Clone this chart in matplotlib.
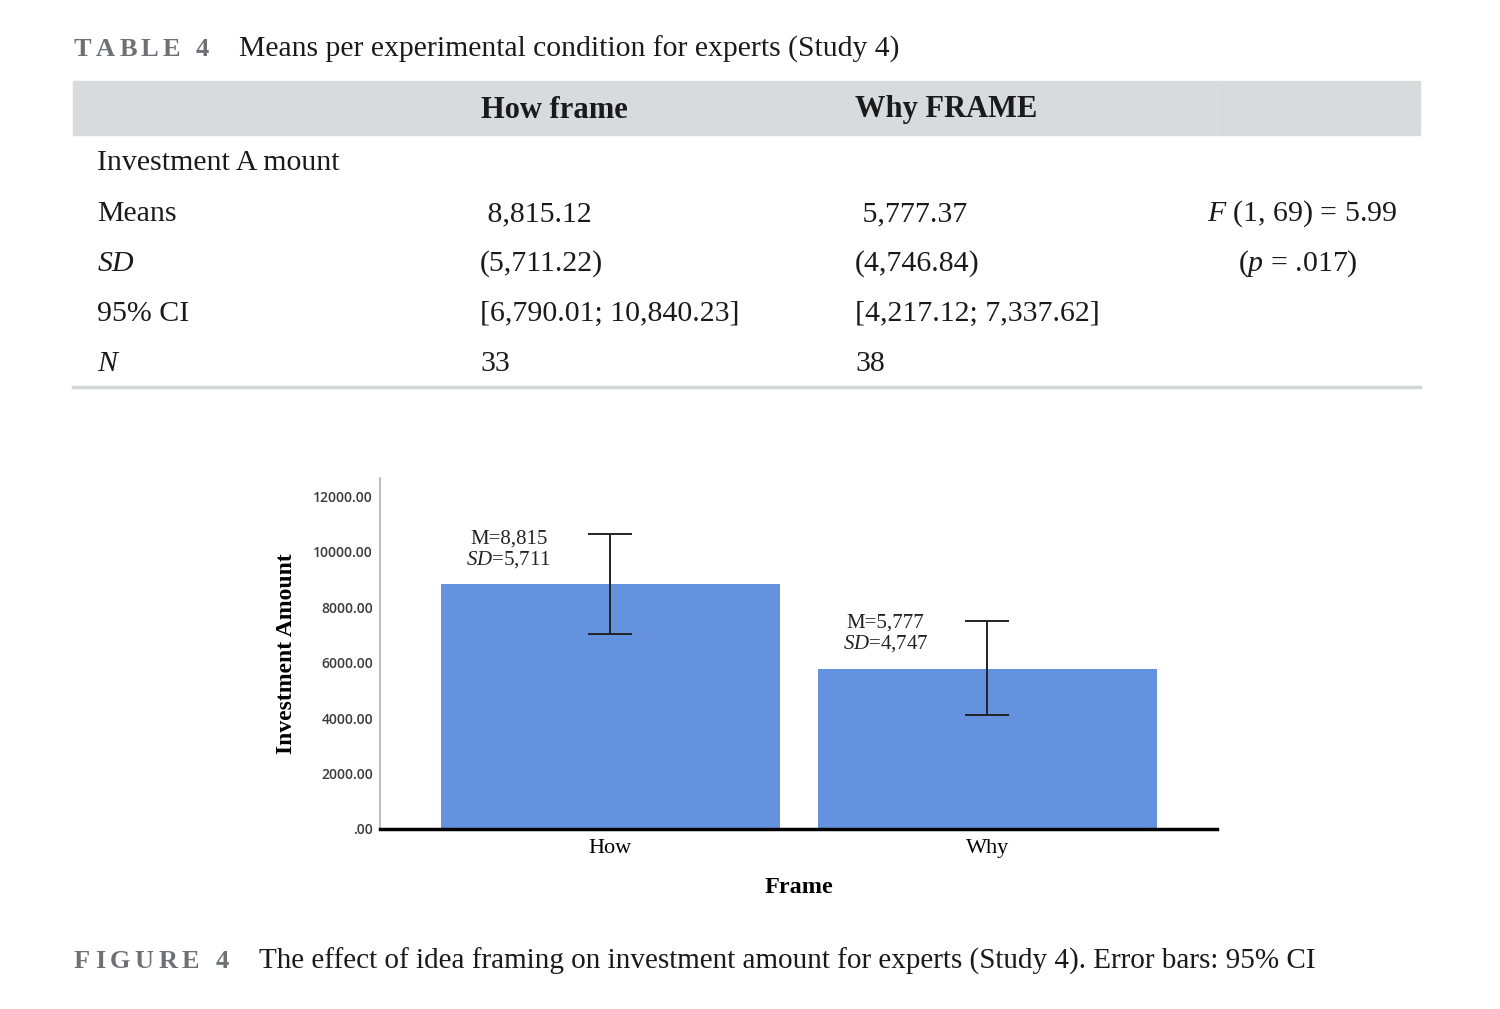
import numpy as np
import matplotlib
matplotlib.use("Agg")
import matplotlib.pyplot as plt

plt.rcParams["font.family"] = "Liberation Serif"
plt.rcParams["mathtext.fontset"] = "custom"
plt.rcParams["mathtext.rm"] = "Liberation Serif"
plt.rcParams["mathtext.it"] = "Liberation Serif:italic"
plt.rcParams["mathtext.bf"] = "Liberation Serif:bold"

# chart data
frames = ["How", "Why"]
means = [8815, 5777]
sds = [5711, 4747]
err_low = [7030, 4110]
err_high = [10630, 7500]
y_ticks = [0, 2000, 4000, 6000, 8000, 10000, 12000]
y_tick_labels = [".00", "2000.00", "4000.00", "6000.00", "8000.00", "10000.00", "12000.00"]

# table data
col_headers = ["How frame", "Why FRAME"]
row_labels = ["Investment A mount", "Means", "$\\it{SD}$", "95% CI", "$\\it{N}$"]
how_col = ["", " 8,815.12", "(5,711.22)", "[6,790.01; 10,840.23]", "33"]
why_col = ["", " 5,777.37", "(4,746.84)", "[4,217.12; 7,337.62]", "38"]
stat_col = ["", "$\\it{F}$ (1, 69) = 5.99", "($\\it{p}$ = .017)", "", ""]

W, H = 1500, 1009
fig = plt.figure(figsize=(15, 10.09), dpi=100)
ink = "#1a1a1a"
gray = "#6d7075"
body = 21.5


def fx(x):
    return x / W


def fy(y):
    return 1 - y / H


def spaced(x, y, s, size, gap):
    r = fig.canvas.get_renderer()
    for ch in s:
        t = fig.text(fx(x), fy(y), ch, fontsize=size, fontweight="bold",
                     color=gray, va="center", ha="left")
        x += t.get_window_extent(r).width + gap


# title
spaced(74, 49, "TABLE 4", 19, 4.2)
fig.text(fx(239), fy(49), "Means per experimental condition for experts (Study 4)",
         fontsize=21.3, color=ink, va="center")

# header band
fig.patches.append(plt.Rectangle((fx(73), fy(135)), fx(1420 - 73), (135 - 81) / H,
                                 transform=fig.transFigure, color="#d9dadc", zorder=0))
fig.lines.append(plt.Line2D([fx(1217), fx(1217)], [fy(81), fy(135)],
                            transform=fig.transFigure, color="#dedfe1", lw=1))
fig.text(fx(554), fy(110), col_headers[0], fontsize=22, fontweight="bold",
         color=ink, va="center", ha="center")
fig.text(fx(855), fy(110), col_headers[1], fontsize=22, fontweight="bold",
         color=ink, va="center", ha="left")

row_y = [163, 214, 264, 314, 364]
for i, yy in enumerate(row_y):
    fig.text(fx(97), fy(yy), row_labels[i], fontsize=body, color=ink, va="center")
    fig.text(fx(480), fy(yy), how_col[i], fontsize=body, color=ink, va="center")
    fig.text(fx(855), fy(yy), why_col[i], fontsize=body, color=ink, va="center")
fig.text(fx(1397), fy(row_y[1]), stat_col[1], fontsize=body, color=ink,
         va="center", ha="right")
fig.text(fx(1298), fy(row_y[2]), stat_col[2], fontsize=body, color=ink,
         va="center", ha="center")

fig.lines.append(plt.Line2D([fx(73), fx(1420)], [fy(387), fy(387)],
                            transform=fig.transFigure, color="#d4d5d7", lw=2.5))

# bar chart
ax = fig.add_axes([fx(380), fy(829), fx(1217 - 380), (829 - 478) / H])
x = np.arange(len(frames))
ax.bar(x, means, width=0.9, color="#6592df", zorder=2)
yerr = [np.array(means) - np.array(err_low), np.array(err_high) - np.array(means)]
ax.errorbar(x, means, yerr=yerr, fmt="none", ecolor="#222222", elinewidth=1.4,
            capsize=16, capthick=1.4, zorder=3)
for xi, m, s in zip(x, means, sds):
    ax.text(xi - 0.27, m + 520, f"M={m:,}\n$\\it{{SD}}$={s:,}", fontsize=15,
            color="#222222", ha="center", va="bottom", linespacing=1.05)

ax.set_xlim(-0.611, 1.609)
ax.set_ylim(0, 12650)
ax.set_xticks(x)
ax.set_xticklabels(frames, fontsize=16)
ax.set_yticks(y_ticks)
ax.set_yticklabels(y_tick_labels, fontsize=10, family="Open Sans",
                   fontweight="semibold", color="#3a3a3a")
ax.tick_params(length=0, pad=5)
ax.tick_params(axis="x", pad=7)
for side in ["top", "right"]:
    ax.spines[side].set_visible(False)
ax.spines["left"].set_color("#b0b0b0")
ax.spines["left"].set_linewidth(1.2)
ax.spines["bottom"].set_color("black")
ax.spines["bottom"].set_linewidth(2.5)
ax.spines["bottom"].set_zorder(4)
ax.set_xlabel("Frame", fontsize=17.5, fontweight="bold", labelpad=14)
ax.set_ylabel("Investment Amount", fontsize=17, fontweight="bold", labelpad=12)

# caption
spaced(74, 961, "FIGURE 4", 19, 4.6)
fig.text(fx(259), fy(961), "The effect of idea framing on investment amount for experts "
         "(Study 4). Error bars: 95% CI", fontsize=21, color=ink, va="center")

fig.savefig("out.png", dpi=100)
